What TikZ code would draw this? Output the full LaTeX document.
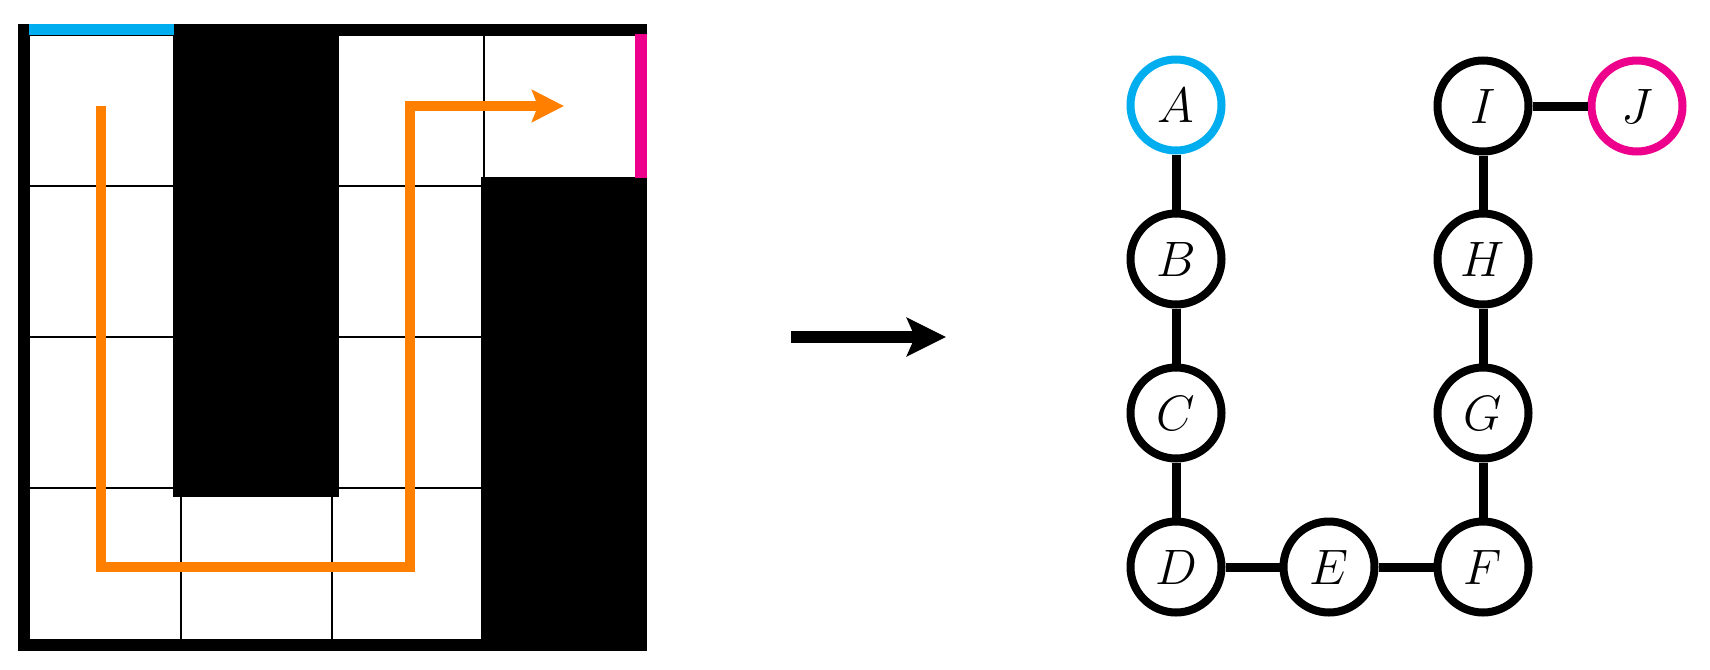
\documentclass[tikz,border=0pt]{standalone}
\usetikzlibrary{arrows.meta}
\definecolor{orng}{RGB}{255,128,0}
\definecolor{cyn}{RGB}{0,174,239}
\definecolor{mgt}{RGB}{236,0,140}
\begin{document}
\begin{tikzpicture}[x=0.5pt,y=-0.5pt,
  gnode/.style={circle,draw=black,line width=4pt,minimum size=45.5pt,inner sep=0pt,fill=white,font=\fontsize{27.8}{30}\selectfont},
  gedge/.style={line width=4.5pt},
  gridl/.style={line width=1.4pt}]
\useasboundingbox[fill=white] (0,0) rectangle (1710,670);
% grid lines
\foreach \v in {186,337,488} \draw[gridl] (30,\v) -- (635,\v);
\foreach \u in {181,332,484} \draw[gridl] (\u,35) -- (\u,639);
% blocks
\fill (173,35) rectangle (339,497);
\fill (481,177) rectangle (647,650);
% border
\draw[line width=6pt] (24,29.5) rectangle (641,644.5);
\draw[cyn,line width=5.5pt] (29,29.5) -- (174,29.5);
\draw[mgt,line width=6pt] (641,34) -- (641,178);
% orange path
\coordinate (ps) at (101,106);
\coordinate (pe) at (564,106);
\draw[orng,line width=5pt,-{Stealth[length=16pt,width=16pt,inset=3pt]}]
  (ps) -- (101,567) -- (410,567) -- (410,106) -- (pe);
% big arrow
\coordinate (as) at (791,337);
\coordinate (ae) at (946,337);
\draw[line width=6pt,-{Stealth[length=19.5pt,width=19pt,inset=4pt]}] (as) -- (ae);
% graph
\node[gnode,draw=cyn] (A) at (1176,105) {$A$};
\node[gnode] (B) at (1176,259) {$B$};
\node[gnode] (C) at (1176,413) {$C$};
\node[gnode] (D) at (1176,567) {$D$};
\node[gnode] (E) at (1329,567) {$E$};
\node[gnode] (F) at (1483,567) {$F$};
\node[gnode] (G) at (1483,413) {$G$};
\node[gnode] (H) at (1483,259) {$H$};
\node[gnode] (I) at (1483,106) {$I$};
\node[gnode,draw=mgt] (J) at (1637,106) {$J$};
\draw[gedge] (A) -- (B) (B) -- (C) (C) -- (D) (D) -- (E) (E) -- (F)
  (F) -- (G) (G) -- (H) (H) -- (I) (I) -- (J);
\end{tikzpicture}
\end{document}
